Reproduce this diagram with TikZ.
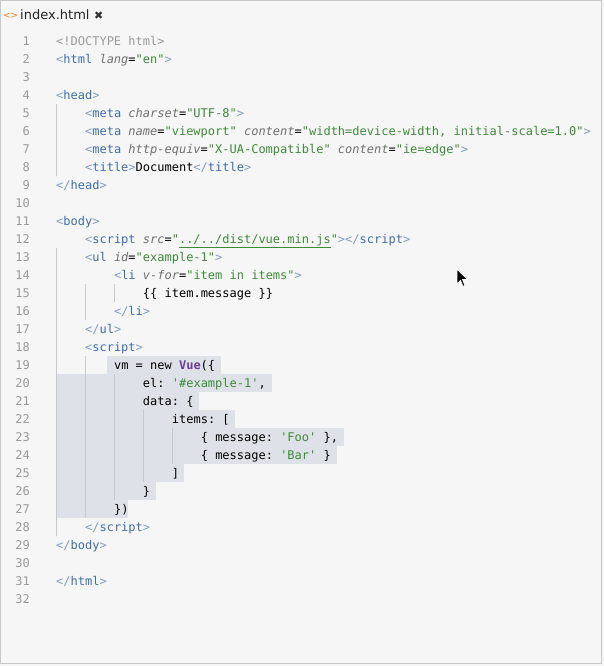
\documentclass[tikz,border=0pt]{standalone}
\usepackage{fontspec}
\setmonofont{DejaVu Sans Mono}
\setsansfont{DejaVu Sans}
\definecolor{bg}{HTML}{F6F6F6}
\definecolor{sel}{HTML}{DEE1E7}
\definecolor{tg}{HTML}{3E6DB0}
\definecolor{br}{HTML}{7E9CC6}
\definecolor{at}{HTML}{707070}
\definecolor{st}{HTML}{3E8A3A}
\definecolor{ln}{HTML}{9A9A9A}
\definecolor{vu}{HTML}{6A3D9A}
\definecolor{gd}{HTML}{C8C8C8}
\newcommand{\T}[1]{\textcolor{br}{<}\textcolor{tg}{#1}}
\newcommand{\E}{\textcolor{br}{>}}
\newcommand{\C}[1]{\textcolor{br}{</}\textcolor{tg}{#1}\textcolor{br}{>}}
\newcommand{\A}[1]{\textcolor{at}{\itshape #1}=}
\newcommand{\Sx}[1]{\textcolor{st}{"#1"}}
\newcommand{\Q}[1]{\textcolor{st}{'#1'}}
\begin{document}
\begin{tikzpicture}[x=1pt,y=-1pt,
  code/.style={anchor=base west,inner sep=0pt,font=\fontsize{12}{14}\selectfont\ttfamily},
  num/.style={anchor=base east,inner sep=0pt,font=\fontsize{12}{14}\selectfont\ttfamily,text=ln},
  guide/.style={draw=gd,line width=0.8pt}]
\useasboundingbox (0,0) rectangle (604,666);
\fill[bg] (0,0) rectangle (604,666);
\draw[gd] (0.5,0.5) rectangle (601,663);
\def\cw{7.23}
\newcommand{\cl}[3]{\node[code] (L#1) at ({56+#2*\cw},{41+18*(#1-1)+4.5}) {#3};}
% selection
\fill[sel] (107,356) rectangle (221,374);
\fill[sel] (56,374) rectangle (272,392);
\fill[sel] (56,392) rectangle (199,410);
\fill[sel] (56,410) rectangle (235,428);
\fill[sel] (56,428) rectangle (344,446);
\fill[sel] (56,446) rectangle (337,464);
\fill[sel] (56,464) rectangle (184,482);
\fill[sel] (56,482) rectangle (156,500);
\fill[sel] (56,500) rectangle (128,518);
% guides
\draw[guide] (56,104) -- (56,176);
\draw[guide] (56,248) -- (56,536);
\draw[guide] (85,284) -- (85,320);
\draw[guide] (114,284) -- (114,302);
\draw[guide] (85,356) -- (85,518);
\draw[guide] (114,374) -- (114,500);
\draw[guide] (143,410) -- (143,482);
\draw[guide] (172,428) -- (172,464);
% line numbers
\foreach \i in {1,...,32} {\node[num] (N\i) at (30,{41+18*(\i-1)+4.5}) {\i};}
% code
\cl{1}{0}{\textcolor{ln}{<!DOCTYPE html>}}
\cl{2}{0}{\T{html} \A{lang}\Sx{en}\E}
\cl{4}{0}{\T{head}\E}
\cl{5}{4}{\T{meta} \A{charset}\Sx{UTF-8}\E}
\cl{6}{4}{\T{meta} \A{name}\Sx{viewport} \A{content}\Sx{width=device-width, initial-scale=1.0}\E}
\cl{7}{4}{\T{meta} \A{http-equiv}\Sx{X-UA-Compatible} \A{content}\Sx{ie=edge}\E}
\cl{8}{4}{\T{title}\E Document\C{title}}
\cl{9}{0}{\C{head}}
\cl{11}{0}{\T{body}\E}
\cl{12}{4}{\T{script} \A{src}\textcolor{st}{"\underline{../../dist/vue.min.js}"}\E\C{script}}
\cl{13}{4}{\T{ul} \A{id}\Sx{example-1}\E}
\cl{14}{8}{\T{li} \A{v-for}\Sx{item in items}\E}
\cl{15}{12}{\{\{ item.message \}\}}
\cl{16}{8}{\C{li}}
\cl{17}{4}{\C{ul}}
\cl{18}{4}{\T{script}\E}
\cl{19}{8}{vm = new \textcolor{vu}{\bfseries Vue}(\{}
\cl{20}{12}{el: \Q{\#example-1},}
\cl{21}{12}{data: \{}
\cl{22}{16}{items: [}
\cl{23}{20}{\{ message: \Q{Foo} \},}
\cl{24}{20}{\{ message: \Q{Bar} \}}
\cl{25}{16}{]}
\cl{26}{12}{\}}
\cl{27}{8}{\})}
\cl{28}{4}{\C{script}}
\cl{29}{0}{\C{body}}
\cl{31}{0}{\C{html}}
% tab
\node[anchor=base west,inner sep=0pt,font=\fontsize{9}{11}\selectfont\sffamily,text=orange!80!brown] (ico) at (3,18.5) {<>};
\node[anchor=base west,inner sep=0pt,font=\fontsize{13}{15}\selectfont\sffamily,text=black!85] (tab) at (20,19.5) {index.html};
\node[anchor=base west,inner sep=0pt,font=\fontsize{11}{13}\selectfont\sffamily\bfseries,text=black!80] (x) at (94,19.5) {✖};
% cursor
\filldraw[fill=black,draw=white,line width=0.8pt] (457,269) -- (457,284) -- (460.5,280.5) -- (463,286.5) -- (465,285.5) -- (462.5,279.5) -- (467.5,279.5) -- cycle;
\end{tikzpicture}
\end{document}
